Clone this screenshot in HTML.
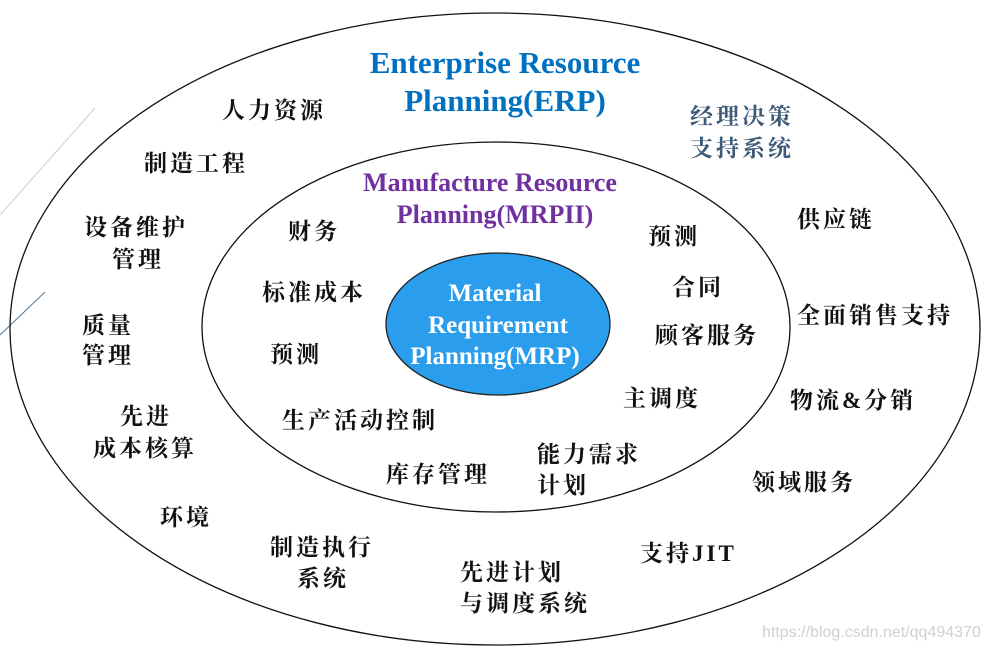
<!DOCTYPE html>
<html><head><meta charset="utf-8"><style>
body{margin:0;width:989px;height:652px;background:#fff;position:relative;overflow:hidden}
.t{position:absolute;font-family:"Liberation Serif","Noto Serif CJK SC",serif;font-weight:700;font-size:23px;letter-spacing:3px;line-height:24px;color:#111;white-space:nowrap;margin-top:1px}
.e{position:absolute;font-family:"Liberation Serif",serif;font-weight:700;white-space:nowrap;text-align:center;line-height:1}
</style></head><body>
<svg width="989" height="652" style="position:absolute;left:0;top:0">
<line x1="0" y1="215" x2="95" y2="108" stroke="#c8d0d8" stroke-width="1"/>
<line x1="0" y1="335" x2="45" y2="292" stroke="#5a7a95" stroke-width="1"/>
<ellipse cx="495" cy="329" rx="485" ry="316" fill="none" stroke="#111" stroke-width="1.3"/>
<ellipse cx="496" cy="327" rx="294" ry="185" fill="none" stroke="#111" stroke-width="1.3"/>
<ellipse cx="498" cy="324" rx="112" ry="71" fill="#2b9ded" stroke="#222" stroke-width="1.3"/>
</svg>
<div class="e" style="left:305px;width:400px;top:47px;font-size:31px;color:#0070c0">Enterprise Resource</div>
<div class="e" style="left:305px;width:400px;top:85px;font-size:31px;color:#0070c0">Planning(ERP)</div>
<div class="e" style="left:290px;width:400px;top:170px;font-size:26px;color:#7030a0">Manufacture Resource</div>
<div class="e" style="left:295px;width:400px;top:202px;font-size:26px;color:#7030a0">Planning(MRPII)</div>
<div class="e" style="left:345px;width:300px;top:281px;font-size:25px;color:#fff">Material</div>
<div class="e" style="left:348px;width:300px;top:313px;font-size:25px;color:#fff">Requirement</div>
<div class="e" style="left:345px;width:300px;top:344px;font-size:25px;color:#fff">Planning(MRP)</div>
<div class="t" style="left:690px;top:104px;color:#3d5a78">经理决策</div>
<div class="t" style="left:690px;top:136px;color:#3d5a78">支持系统</div>
<div class="t" style="left:222px;top:98px">人力资源</div>
<div class="t" style="left:144px;top:151px">制造工程</div>
<div class="t" style="left:84px;top:215px">设备维护</div>
<div class="t" style="left:112px;top:247px">管理</div>
<div class="t" style="left:82px;top:313px">质量</div>
<div class="t" style="left:82px;top:343px">管理</div>
<div class="t" style="left:120px;top:404px">先进</div>
<div class="t" style="left:93px;top:436px">成本核算</div>
<div class="t" style="left:160px;top:505px">环境</div>
<div class="t" style="left:270px;top:535px">制造执行</div>
<div class="t" style="left:297px;top:566px">系统</div>
<div class="t" style="left:460px;top:560px">先进计划</div>
<div class="t" style="left:460px;top:591px">与调度系统</div>
<div class="t" style="left:640px;top:541px">支持JIT</div>
<div class="t" style="left:752px;top:470px">领域服务</div>
<div class="t" style="left:790px;top:388px">物流&amp;分销</div>
<div class="t" style="left:797px;top:303px">全面销售支持</div>
<div class="t" style="left:797px;top:207px">供应链</div>
<div class="t" style="left:648px;top:224px">预测</div>
<div class="t" style="left:672px;top:275px">合同</div>
<div class="t" style="left:655px;top:323px">顾客服务</div>
<div class="t" style="left:623px;top:386px">主调度</div>
<div class="t" style="left:537px;top:442px">能力需求</div>
<div class="t" style="left:537px;top:473px">计划</div>
<div class="t" style="left:386px;top:462px">库存管理</div>
<div class="t" style="left:282px;top:408px">生产活动控制</div>
<div class="t" style="left:270px;top:342px">预测</div>
<div class="t" style="left:262px;top:280px">标准成本</div>
<div class="t" style="left:288px;top:219px">财务</div>
<div style="position:absolute;left:762px;top:624px;font-family:'Liberation Sans',sans-serif;font-size:16px;color:#d0d0d0">https://blog.csdn.net/qq494370</div>
</body></html>
